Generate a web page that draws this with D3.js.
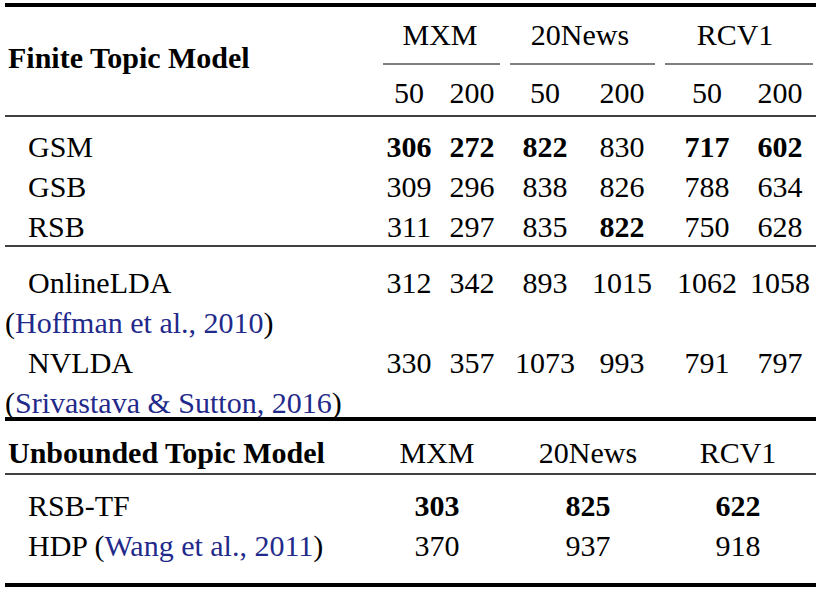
<!DOCTYPE html>
<html><head><meta charset="utf-8">
<script src="https://d3js.org/d3.v7.min.js"></script>
<style>body{margin:0;background:#fff}svg text{font-family:'Liberation Serif','Times New Roman',Times,'DejaVu Serif',serif;font-size:30px;fill:#000}</style>
</head><body>
<script>
// Finite topic model perplexity table
const datasets = ['MXM', '20News', 'RCV1'];
const topicCounts = ['50', '200', '50', '200', '50', '200'];
const finiteModels = ['GSM', 'GSB', 'RSB'];
const finiteValues = [
  [306, 272, 822, 830, 717, 602],
  [309, 296, 838, 826, 788, 634],
  [311, 297, 835, 822, 750, 628]
];
const finiteBold = [
  [1, 1, 1, 0, 1, 1],
  [0, 0, 0, 0, 0, 0],
  [0, 0, 0, 1, 0, 0]
];
const baselineModels = [
  { name: 'OnlineLDA', cite: ['Hoffman et al., ', '2010'] },
  { name: 'NVLDA', cite: ['Srivastava & Sutton, ', '2016'] }
];
const baselineValues = [
  [312, 342, 893, 1015, 1062, 1058],
  [330, 357, 1073, 993, 791, 797]
];
const unboundedModels = ['RSB-TF', 'HDP'];
const unboundedValues = [[303, 825, 622], [370, 937, 918]];
const unboundedBold = [[1, 1, 1], [0, 0, 0]];

const W = 825, H = 592, blue = '#1f2a8a';
const svg = d3.select('body').append('svg').attr('width', W).attr('height', H);

const colX = d3.scaleOrdinal().domain(d3.range(6)).range([409, 472, 545, 622, 707, 780]);
const groupX = d3.scaleOrdinal().domain(d3.range(3)).range([440, 580, 735]);
const lowX = d3.scaleOrdinal().domain(d3.range(3)).range([437, 588, 738]);

function rule(y, w, x1 = 5, x2 = 816) {
  svg.append('line').attr('x1', x1).attr('x2', x2).attr('y1', y).attr('y2', y)
    .style('stroke', '#000').style('stroke-width', w);
}
function txt(x, y, s, anchor = 'middle', bold = false) {
  return svg.append('text').attr('x', x).attr('y', y).attr('text-anchor', anchor)
    .style('font-weight', bold ? 'bold' : 'normal').text(s);
}

rule(5, 4);
txt(8, 68, 'Finite Topic Model', 'start', true);
datasets.forEach((d, i) => txt(groupX(i), 45, d));
[[383, 500], [510, 655], [665, 813]].forEach(([a, b]) => rule(64, 1, a, b));
topicCounts.forEach((t, i) => txt(colX(i), 103, t));
rule(116, 1.5);

finiteModels.forEach((m, r) => {
  const y = 157 + r * 40;
  txt(28, y, m, 'start');
  finiteValues[r].forEach((v, c) => txt(colX(c), y, v, 'middle', finiteBold[r][c]));
});
rule(246, 1.5);

baselineModels.forEach((m, r) => {
  const y = 293 + r * 80;
  txt(28, y, m.name, 'start');
  baselineValues[r].forEach((v, c) => txt(colX(c), y, v));
  const t = svg.append('text').attr('x', 5).attr('y', y + 40);
  t.append('tspan').text('(');
  t.append('tspan').style('fill', blue).text(m.cite[0]);
  t.append('tspan').style('fill', blue).text(m.cite[1]);
  t.append('tspan').text(')');
});
rule(419, 4);

txt(8, 463, 'Unbounded Topic Model', 'start', true);
datasets.forEach((d, i) => txt(lowX(i), 463, d));
rule(474, 1.5);
unboundedModels.forEach((m, r) => {
  const y = 516 + r * 40;
  if (r === 1) {
    const t = svg.append('text').attr('x', 28).attr('y', y);
    t.append('tspan').text('HDP (');
    t.append('tspan').style('fill', blue).text('Wang et al., 2011');
    t.append('tspan').text(')');
  } else txt(28, y, m, 'start');
  unboundedValues[r].forEach((v, c) => txt(lowX(c), y, v, 'middle', unboundedBold[r][c]));
});
rule(585, 4);
</script>
</body></html>
